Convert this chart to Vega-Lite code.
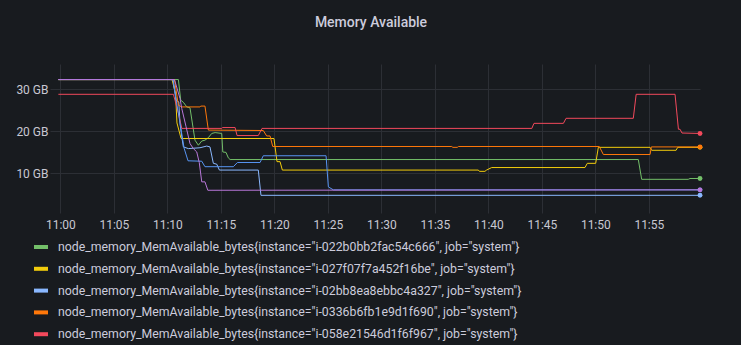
{
  "$schema": "https://vega.github.io/schema/vega-lite/v6.json",
  "autosize": "none",
  "width": 650,
  "height": 149,
  "padding": {"left": 50, "top": 64, "right": 41, "bottom": 132},
  "background": "#181b1f",
  "title": {"text": "Memory Available", "anchor": "middle", "fontSize": 14, "fontWeight": 500, "color": "#ccccdc", "font": "Roboto", "offset": 34, "dx": -4},
  "data": {"values": [
    {"s":"i-022b0bb2fac54c666","t":"2024-01-01T10:59:49Z","v":32.3},
    {"s":"i-022b0bb2fac54c666","t":"2024-01-01T11:11:02Z","v":32.3},
    {"s":"i-022b0bb2fac54c666","t":"2024-01-01T11:11:15Z","v":27.4},
    {"s":"i-022b0bb2fac54c666","t":"2024-01-01T11:11:30Z","v":26.9},
    {"s":"i-022b0bb2fac54c666","t":"2024-01-01T11:11:49Z","v":25.8},
    {"s":"i-022b0bb2fac54c666","t":"2024-01-01T11:12:07Z","v":25.6},
    {"s":"i-022b0bb2fac54c666","t":"2024-01-01T11:12:35Z","v":17.9},
    {"s":"i-022b0bb2fac54c666","t":"2024-01-01T11:12:54Z","v":16.7},
    {"s":"i-022b0bb2fac54c666","t":"2024-01-01T11:13:13Z","v":17.7},
    {"s":"i-022b0bb2fac54c666","t":"2024-01-01T11:13:31Z","v":17.9},
    {"s":"i-022b0bb2fac54c666","t":"2024-01-01T11:13:50Z","v":18.5},
    {"s":"i-022b0bb2fac54c666","t":"2024-01-01T11:14:09Z","v":19.5},
    {"s":"i-022b0bb2fac54c666","t":"2024-01-01T11:14:28Z","v":19.7},
    {"s":"i-022b0bb2fac54c666","t":"2024-01-01T11:15:05Z","v":19.5},
    {"s":"i-022b0bb2fac54c666","t":"2024-01-01T11:15:11Z","v":15.1},
    {"s":"i-022b0bb2fac54c666","t":"2024-01-01T11:15:29Z","v":15.0},
    {"s":"i-022b0bb2fac54c666","t":"2024-01-01T11:15:42Z","v":13.7},
    {"s":"i-022b0bb2fac54c666","t":"2024-01-01T11:15:52Z","v":13.3},
    {"s":"i-022b0bb2fac54c666","t":"2024-01-01T11:54:01Z","v":13.3},
    {"s":"i-022b0bb2fac54c666","t":"2024-01-01T11:54:20Z","v":8.6},
    {"s":"i-022b0bb2fac54c666","t":"2024-01-01T11:58:41Z","v":8.6},
    {"s":"i-022b0bb2fac54c666","t":"2024-01-01T11:58:51Z","v":8.8},
    {"s":"i-022b0bb2fac54c666","t":"2024-01-01T11:59:47Z","v":8.8},

    {"s":"i-027f07f7a452f16be","t":"2024-01-01T10:59:49Z","v":32.3},
    {"s":"i-027f07f7a452f16be","t":"2024-01-01T11:10:26Z","v":32.3},
    {"s":"i-027f07f7a452f16be","t":"2024-01-01T11:10:46Z","v":29.0},
    {"s":"i-027f07f7a452f16be","t":"2024-01-01T11:10:54Z","v":22.0},
    {"s":"i-027f07f7a452f16be","t":"2024-01-01T11:11:17Z","v":18.3},
    {"s":"i-027f07f7a452f16be","t":"2024-01-01T11:19:58Z","v":18.3},
    {"s":"i-027f07f7a452f16be","t":"2024-01-01T11:20:15Z","v":12.8},
    {"s":"i-027f07f7a452f16be","t":"2024-01-01T11:20:32Z","v":12.8},
    {"s":"i-027f07f7a452f16be","t":"2024-01-01T11:20:45Z","v":10.8},
    {"s":"i-027f07f7a452f16be","t":"2024-01-01T11:39:04Z","v":10.8},
    {"s":"i-027f07f7a452f16be","t":"2024-01-01T11:39:10Z","v":10.5},
    {"s":"i-027f07f7a452f16be","t":"2024-01-01T11:39:41Z","v":10.5},
    {"s":"i-027f07f7a452f16be","t":"2024-01-01T11:39:50Z","v":10.8},
    {"s":"i-027f07f7a452f16be","t":"2024-01-01T11:40:19Z","v":11.4},
    {"s":"i-027f07f7a452f16be","t":"2024-01-01T11:49:02Z","v":11.4},
    {"s":"i-027f07f7a452f16be","t":"2024-01-01T11:49:15Z","v":12.4},
    {"s":"i-027f07f7a452f16be","t":"2024-01-01T11:50:02Z","v":12.4},
    {"s":"i-027f07f7a452f16be","t":"2024-01-01T11:50:17Z","v":16.2},
    {"s":"i-027f07f7a452f16be","t":"2024-01-01T11:55:07Z","v":16.2},
    {"s":"i-027f07f7a452f16be","t":"2024-01-01T11:55:16Z","v":15.5},
    {"s":"i-027f07f7a452f16be","t":"2024-01-01T11:57:33Z","v":15.5},
    {"s":"i-027f07f7a452f16be","t":"2024-01-01T11:57:42Z","v":16.2},
    {"s":"i-027f07f7a452f16be","t":"2024-01-01T11:59:47Z","v":16.2},

    {"s":"i-02bb8ea8ebbc4a327","t":"2024-01-01T10:59:49Z","v":32.3},
    {"s":"i-02bb8ea8ebbc4a327","t":"2024-01-01T11:10:32Z","v":32.3},
    {"s":"i-02bb8ea8ebbc4a327","t":"2024-01-01T11:10:49Z","v":27.4},
    {"s":"i-02bb8ea8ebbc4a327","t":"2024-01-01T11:11:04Z","v":27.0},
    {"s":"i-02bb8ea8ebbc4a327","t":"2024-01-01T11:11:11Z","v":21.9},
    {"s":"i-02bb8ea8ebbc4a327","t":"2024-01-01T11:11:21Z","v":18.7},
    {"s":"i-02bb8ea8ebbc4a327","t":"2024-01-01T11:11:30Z","v":16.3},
    {"s":"i-02bb8ea8ebbc4a327","t":"2024-01-01T11:11:58Z","v":15.9},
    {"s":"i-02bb8ea8ebbc4a327","t":"2024-01-01T11:13:03Z","v":16.1},
    {"s":"i-02bb8ea8ebbc4a327","t":"2024-01-01T11:13:41Z","v":16.5},
    {"s":"i-02bb8ea8ebbc4a327","t":"2024-01-01T11:13:59Z","v":16.3},
    {"s":"i-02bb8ea8ebbc4a327","t":"2024-01-01T11:14:18Z","v":12.4},
    {"s":"i-02bb8ea8ebbc4a327","t":"2024-01-01T11:14:37Z","v":12.2},
    {"s":"i-02bb8ea8ebbc4a327","t":"2024-01-01T11:14:52Z","v":10.8},
    {"s":"i-02bb8ea8ebbc4a327","t":"2024-01-01T11:18:30Z","v":10.8},
    {"s":"i-02bb8ea8ebbc4a327","t":"2024-01-01T11:18:45Z","v":4.8},
    {"s":"i-02bb8ea8ebbc4a327","t":"2024-01-01T11:59:47Z","v":4.8},

    {"s":"i-0336b6fb1e9d1f690","t":"2024-01-01T10:59:49Z","v":32.3},
    {"s":"i-0336b6fb1e9d1f690","t":"2024-01-01T11:10:40Z","v":32.3},
    {"s":"i-0336b6fb1e9d1f690","t":"2024-01-01T11:11:02Z","v":26.2},
    {"s":"i-0336b6fb1e9d1f690","t":"2024-01-01T11:11:21Z","v":25.8},
    {"s":"i-0336b6fb1e9d1f690","t":"2024-01-01T11:13:03Z","v":25.8},
    {"s":"i-0336b6fb1e9d1f690","t":"2024-01-01T11:13:08Z","v":26.0},
    {"s":"i-0336b6fb1e9d1f690","t":"2024-01-01T11:13:31Z","v":26.0},
    {"s":"i-0336b6fb1e9d1f690","t":"2024-01-01T11:13:50Z","v":20.3},
    {"s":"i-0336b6fb1e9d1f690","t":"2024-01-01T11:18:58Z","v":20.2},
    {"s":"i-0336b6fb1e9d1f690","t":"2024-01-01T11:19:17Z","v":18.9},
    {"s":"i-0336b6fb1e9d1f690","t":"2024-01-01T11:19:36Z","v":18.9},
    {"s":"i-0336b6fb1e9d1f690","t":"2024-01-01T11:19:51Z","v":16.4},
    {"s":"i-0336b6fb1e9d1f690","t":"2024-01-01T11:36:35Z","v":16.4},
    {"s":"i-0336b6fb1e9d1f690","t":"2024-01-01T11:36:41Z","v":16.2},
    {"s":"i-0336b6fb1e9d1f690","t":"2024-01-01T11:37:06Z","v":16.2},
    {"s":"i-0336b6fb1e9d1f690","t":"2024-01-01T11:37:12Z","v":16.4},
    {"s":"i-0336b6fb1e9d1f690","t":"2024-01-01T11:50:22Z","v":16.4},
    {"s":"i-0336b6fb1e9d1f690","t":"2024-01-01T11:50:45Z","v":14.5},
    {"s":"i-0336b6fb1e9d1f690","t":"2024-01-01T11:55:07Z","v":14.5},
    {"s":"i-0336b6fb1e9d1f690","t":"2024-01-01T11:55:14Z","v":16.3},
    {"s":"i-0336b6fb1e9d1f690","t":"2024-01-01T11:59:47Z","v":16.3},

    {"s":"i-058e21546d1f6f967","t":"2024-01-01T10:59:49Z","v":28.8},
    {"s":"i-058e21546d1f6f967","t":"2024-01-01T11:10:34Z","v":28.8},
    {"s":"i-058e21546d1f6f967","t":"2024-01-01T11:10:43Z","v":27.4},
    {"s":"i-058e21546d1f6f967","t":"2024-01-01T11:11:02Z","v":24.3},
    {"s":"i-058e21546d1f6f967","t":"2024-01-01T11:11:21Z","v":20.7},
    {"s":"i-058e21546d1f6f967","t":"2024-01-01T11:15:05Z","v":20.7},
    {"s":"i-058e21546d1f6f967","t":"2024-01-01T11:15:10Z","v":20.9},
    {"s":"i-058e21546d1f6f967","t":"2024-01-01T11:16:20Z","v":20.9},
    {"s":"i-058e21546d1f6f967","t":"2024-01-01T11:16:31Z","v":19.0},
    {"s":"i-058e21546d1f6f967","t":"2024-01-01T11:18:30Z","v":19.0},
    {"s":"i-058e21546d1f6f967","t":"2024-01-01T11:18:51Z","v":20.7},
    {"s":"i-058e21546d1f6f967","t":"2024-01-01T11:44:04Z","v":20.7},
    {"s":"i-058e21546d1f6f967","t":"2024-01-01T11:44:16Z","v":21.9},
    {"s":"i-058e21546d1f6f967","t":"2024-01-01T11:47:01Z","v":21.9},
    {"s":"i-058e21546d1f6f967","t":"2024-01-01T11:47:16Z","v":23.1},
    {"s":"i-058e21546d1f6f967","t":"2024-01-01T11:53:33Z","v":23.1},
    {"s":"i-058e21546d1f6f967","t":"2024-01-01T11:53:49Z","v":28.8},
    {"s":"i-058e21546d1f6f967","t":"2024-01-01T11:57:27Z","v":28.8},
    {"s":"i-058e21546d1f6f967","t":"2024-01-01T11:57:46Z","v":20.5},
    {"s":"i-058e21546d1f6f967","t":"2024-01-01T11:57:55Z","v":20.5},
    {"s":"i-058e21546d1f6f967","t":"2024-01-01T11:58:06Z","v":19.6},
    {"s":"i-058e21546d1f6f967","t":"2024-01-01T11:59:47Z","v":19.5},

    {"s":"i-07c1d3a5e9b2f4068","t":"2024-01-01T10:59:49Z","v":32.3},
    {"s":"i-07c1d3a5e9b2f4068","t":"2024-01-01T11:10:32Z","v":32.3},
    {"s":"i-07c1d3a5e9b2f4068","t":"2024-01-01T11:10:49Z","v":27.5},
    {"s":"i-07c1d3a5e9b2f4068","t":"2024-01-01T11:11:11Z","v":22.0},
    {"s":"i-07c1d3a5e9b2f4068","t":"2024-01-01T11:11:34Z","v":16.0},
    {"s":"i-07c1d3a5e9b2f4068","t":"2024-01-01T11:11:56Z","v":13.0},
    {"s":"i-07c1d3a5e9b2f4068","t":"2024-01-01T11:13:13Z","v":12.9},
    {"s":"i-07c1d3a5e9b2f4068","t":"2024-01-01T11:13:31Z","v":11.6},
    {"s":"i-07c1d3a5e9b2f4068","t":"2024-01-01T11:16:10Z","v":11.6},
    {"s":"i-07c1d3a5e9b2f4068","t":"2024-01-01T11:16:33Z","v":12.6},
    {"s":"i-07c1d3a5e9b2f4068","t":"2024-01-01T11:18:40Z","v":12.6},
    {"s":"i-07c1d3a5e9b2f4068","t":"2024-01-01T11:18:58Z","v":14.2},
    {"s":"i-07c1d3a5e9b2f4068","t":"2024-01-01T11:24:50Z","v":14.2},
    {"s":"i-07c1d3a5e9b2f4068","t":"2024-01-01T11:25:03Z","v":6.8},
    {"s":"i-07c1d3a5e9b2f4068","t":"2024-01-01T11:25:31Z","v":6.1},
    {"s":"i-07c1d3a5e9b2f4068","t":"2024-01-01T11:59:47Z","v":6.1},

    {"s":"i-0a9e4c2b7d1f35e82","t":"2024-01-01T10:59:49Z","v":32.3},
    {"s":"i-0a9e4c2b7d1f35e82","t":"2024-01-01T11:10:40Z","v":32.3},
    {"s":"i-0a9e4c2b7d1f35e82","t":"2024-01-01T11:11:11Z","v":27.8},
    {"s":"i-0a9e4c2b7d1f35e82","t":"2024-01-01T11:11:21Z","v":25.4},
    {"s":"i-0a9e4c2b7d1f35e82","t":"2024-01-01T11:11:45Z","v":21.1},
    {"s":"i-0a9e4c2b7d1f35e82","t":"2024-01-01T11:12:07Z","v":17.1},
    {"s":"i-0a9e4c2b7d1f35e82","t":"2024-01-01T11:12:26Z","v":15.9},
    {"s":"i-0a9e4c2b7d1f35e82","t":"2024-01-01T11:12:45Z","v":15.1},
    {"s":"i-0a9e4c2b7d1f35e82","t":"2024-01-01T11:12:59Z","v":12.6},
    {"s":"i-0a9e4c2b7d1f35e82","t":"2024-01-01T11:13:13Z","v":8.0},
    {"s":"i-0a9e4c2b7d1f35e82","t":"2024-01-01T11:13:31Z","v":8.0},
    {"s":"i-0a9e4c2b7d1f35e82","t":"2024-01-01T11:13:47Z","v":6.0},
    {"s":"i-0a9e4c2b7d1f35e82","t":"2024-01-01T11:59:47Z","v":6.1}
  ]},
  "encoding": {
    "x": {"field": "t", "type": "temporal",
      "scale": {"type": "utc", "domain": [
        {"year": 2024, "month": 1, "date": 1, "hours": 10, "minutes": 59, "seconds": 2, "utc": true},
        {"year": 2024, "month": 1, "date": 1, "hours": 11, "minutes": 59, "seconds": 47, "utc": true}]},
      "axis": {"title": null, "format": "%H:%M", "labelPadding": 6, "labelFlush": false, "labelOverlap": false,
        "values": [
          {"year": 2024, "month": 1, "date": 1, "hours": 11, "minutes": 0, "utc": true},
          {"year": 2024, "month": 1, "date": 1, "hours": 11, "minutes": 5, "utc": true},
          {"year": 2024, "month": 1, "date": 1, "hours": 11, "minutes": 10, "utc": true},
          {"year": 2024, "month": 1, "date": 1, "hours": 11, "minutes": 15, "utc": true},
          {"year": 2024, "month": 1, "date": 1, "hours": 11, "minutes": 20, "utc": true},
          {"year": 2024, "month": 1, "date": 1, "hours": 11, "minutes": 25, "utc": true},
          {"year": 2024, "month": 1, "date": 1, "hours": 11, "minutes": 30, "utc": true},
          {"year": 2024, "month": 1, "date": 1, "hours": 11, "minutes": 35, "utc": true},
          {"year": 2024, "month": 1, "date": 1, "hours": 11, "minutes": 40, "utc": true},
          {"year": 2024, "month": 1, "date": 1, "hours": 11, "minutes": 45, "utc": true},
          {"year": 2024, "month": 1, "date": 1, "hours": 11, "minutes": 50, "utc": true},
          {"year": 2024, "month": 1, "date": 1, "hours": 11, "minutes": 55, "utc": true}]}},
    "y": {"field": "v", "type": "quantitative",
      "scale": {"domain": [0.6, 36], "nice": false, "zero": false},
      "axis": {"title": null, "values": [10, 20, 30], "labelExpr": "datum.value + ' GB'", "labelPadding": 2}},
    "color": {"field": "s", "type": "nominal",
      "scale": {
        "domain": ["i-022b0bb2fac54c666", "i-027f07f7a452f16be", "i-02bb8ea8ebbc4a327", "i-0336b6fb1e9d1f690", "i-058e21546d1f6f967", "i-07c1d3a5e9b2f4068", "i-0a9e4c2b7d1f35e82"],
        "range": ["#73BF69", "#F2CC0C", "#8AB8FF", "#FF780A", "#F2495C", "#5794F2", "#B877D9"]}}
  },
  "layer": [
    {"mark": {"type": "line", "strokeWidth": 1, "interpolate": "linear"},
     "encoding": {"color": {"field": "s", "type": "nominal",
       "legend": {"title": null, "orient": "none", "legendX": -18, "legendY": 174, "direction": "vertical",
         "symbolType": "stroke", "symbolStrokeWidth": 4, "symbolSize": 196, "labelOffset": 8, "rowPadding": 4.8,
         "labelFontSize": 12.3, "labelFont": "Roboto", "labelColor": "#ccccdc", "labelLimit": 1000,
         "labelExpr": "'node_memory_MemAvailable_bytes{instance=\"' + datum.label + '\", job=\"system\"}'"}}}},
    {"transform": [{"filter": {"field": "t", "equal": {"year": 2024, "month": 1, "date": 1, "hours": 11, "minutes": 59, "seconds": 47, "utc": true}}}],
     "mark": {"type": "point", "filled": true, "opacity": 1, "size": 24},
     "encoding": {"color": {"field": "s", "type": "nominal", "legend": null}}}
  ],
  "config": {
    "view": {"stroke": null},
    "font": "Roboto",
    "axis": {"domain": false, "ticks": false, "grid": true, "gridColor": "#2c2f35", "gridWidth": 1,
      "labelColor": "#c8c8d2", "labelFontSize": 12, "labelFont": "Roboto"}
  }
}
